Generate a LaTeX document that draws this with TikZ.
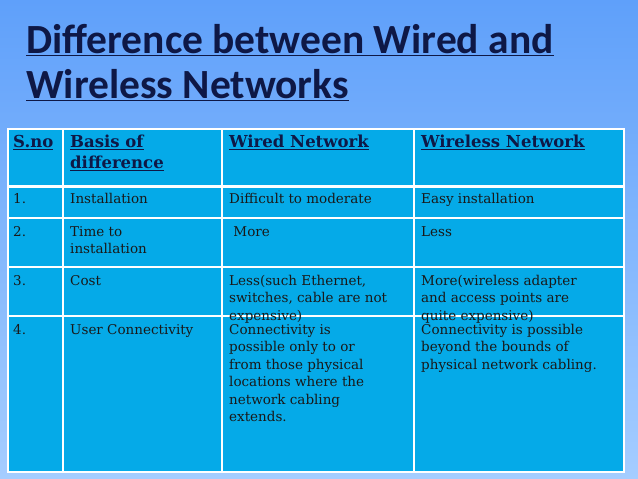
\documentclass[tikz,border=0pt]{standalone}
\usepackage{fontspec}
\setmainfont{DejaVu Serif}
\newfontfamily\titlefont{Carlito}
\newcommand\uln[1]{\underline{#1}}
\begin{document}
\begin{tikzpicture}[x=1pt,y=-1pt,
  cell/.style={fill=cellblue,draw=white,line width=1.5pt},
  hd/.style={anchor=north west,align=left,inner sep=0pt,font=\fontsize{16.5}{21}\selectfont\bfseries,text=navy},
  bd/.style={anchor=north west,align=left,inner sep=0pt,font=\fontsize{13.5}{17.5}\selectfont,text=black!90}]
\definecolor{cellblue}{RGB}{5,170,232}
\definecolor{navy}{RGB}{14,24,70}
\definecolor{bgtop}{RGB}{95,160,250}
\definecolor{bgbot}{RGB}{165,205,255}
\shade[top color=bgtop,bottom color=bgbot] (0,0) rectangle (638,479);
\useasboundingbox (0,0) rectangle (638,479);
\node[anchor=base west,inner sep=0pt,text=navy,font=\titlefont\fontsize{41.5}{48}\selectfont\bfseries,align=left] (title) at (26,53) {\uln{Difference between Wired and}};
\node[anchor=base west,inner sep=0pt,text=navy,font=\titlefont\fontsize{41.5}{48}\selectfont\bfseries,align=left] (title2) at (26,98) {\uln{Wireless Networks}};
% grid
\foreach \ya/\yb in {129/186,186/218,218/267,267/316,316/472}{
  \foreach \xa/\xb in {8/63,63/222,222/414,414/624}{
    \draw[cell] (\xa,\ya) rectangle (\xb,\yb);}}
\draw[white,line width=3pt] (8,186) -- (624,186);
% header
\node[hd] (h1) at (13,135) {\uln{S.no}};
\node[hd] (h2) at (70,135) {\uln{Basis of}\\\uln{difference}};
\node[hd] (h3) at (229,135) {\uln{Wired Network}};
\node[hd] (h4) at (421,135) {\uln{Wireless Network}};
% row 1
\node[bd] (a1) at (13,193) {1.};
\node[bd] (a2) at (70,193) {Installation};
\node[bd] (a3) at (229,193) {Difficult to moderate};
\node[bd] (a4) at (421,193) {Easy installation};
% row 2
\node[bd] (b1) at (13,226) {2.};
\node[bd] (b2) at (70,226) {Time to\\installation};
\node[bd] (b3) at (229,226) {\ More};
\node[bd] (b4) at (421,226) {Less};
% row 3
\node[bd] (c1) at (13,275) {3.};
\node[bd] (c2) at (70,275) {Cost};
\node[bd] (c3) at (229,275) {Less(such Ethernet,\\switches, cable are not\\expensive)};
\node[bd] (c4) at (421,275) {More(wireless adapter\\and access points are\\quite expensive)};
% row 4
\node[bd] (d1) at (13,324) {4.};
\node[bd] (d2) at (70,324) {User Connectivity};
\node[bd] (d3) at (229,324) {Connectivity is\\possible only to or\\from those physical\\locations where the\\network cabling\\extends.};
\node[bd] (d4) at (421,324) {Connectivity is possible\\beyond the bounds of\\physical network cabling.};
\end{tikzpicture}
\end{document}
